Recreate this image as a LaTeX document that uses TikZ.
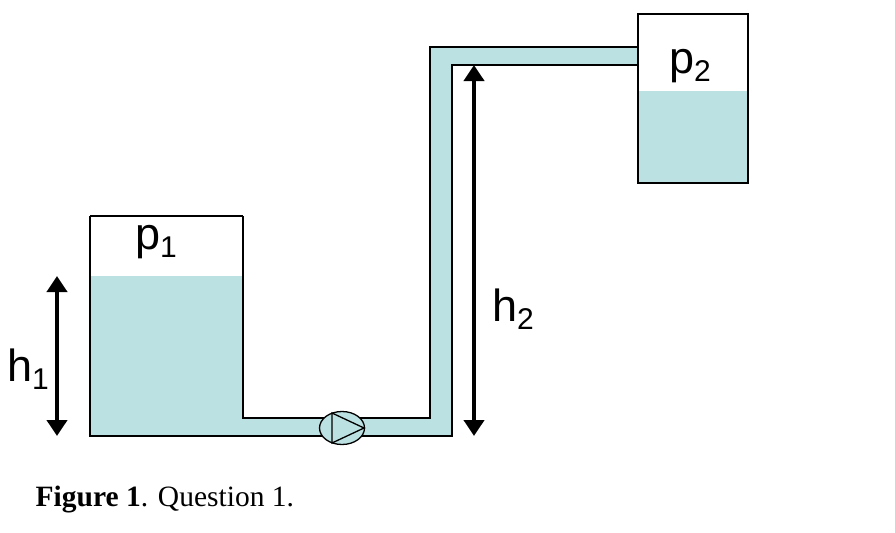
\documentclass[tikz,border=0pt]{standalone}
\usepackage{fontspec}
\setmainfont{Liberation Sans}
\newfontfamily\capfont{Liberation Serif}
\usetikzlibrary{arrows.meta,shapes.geometric}
\definecolor{water}{RGB}{188,225,226}
\newcommand{\lowsub}[1]{\raisebox{-0.18em}{\fontsize{30}{32}\selectfont #1}}
\begin{document}
\begin{tikzpicture}[x=1pt,y=-1pt,line width=1.3pt,
  lbl/.style={inner sep=0pt,font=\fontsize{45}{48}\selectfont},
  dim/.style={line width=4pt,{Triangle[length=16pt,width=20pt]}-{Triangle[length=16pt,width=20pt]}}]
\useasboundingbox (0,0) rectangle (895,533);
% water fills
\fill[water] (90,276) rectangle (243,436);
\fill[water] (243,418) rectangle (452,436);
\fill[water] (430,47) rectangle (452,436);
\fill[water] (430,47) rectangle (638,65);
\fill[water] (638,91) rectangle (748,183);
% tank 1 and pipe outline
\draw (90,216) -- (90,436) -- (452,436) -- (452,65) -- (638,65);
\draw (243,216) -- (90,216);
\draw (243,216) -- (243,418) -- (430,418) -- (430,47) -- (638,47);
% tank 2
\draw (638,14) rectangle (748,183);
% pump
\node[draw,ellipse,fill=water,minimum width=45pt,minimum height=33pt,inner sep=0pt,line width=1.3pt] (pump) at (342,428) {};
\draw (332,413) -- (332,443) -- (364,428) -- cycle;
% dimension arrows
\coordinate (a1) at (57,276); \coordinate (b1) at (57,436);
\draw[dim] (a1) -- (b1);
\coordinate (a2) at (474,65); \coordinate (b2) at (474,436);
\draw[dim] (a2) -- (b2);
% labels
\node[lbl] (h1) at (28,369) {h\lowsub{1}};
\node[lbl] (h2) at (513,309) {h\lowsub{2}};
\node[lbl] (p1) at (156,242) {p\lowsub{1}};
\node[lbl] (p2) at (690,66) {p\lowsub{2}};
\node[anchor=west,inner sep=0pt,font=\capfont\fontsize{29.5}{32}\selectfont] (cap) at (35,500) {\textbf{Figure 1}. Question 1.};
\end{tikzpicture}
\end{document}
